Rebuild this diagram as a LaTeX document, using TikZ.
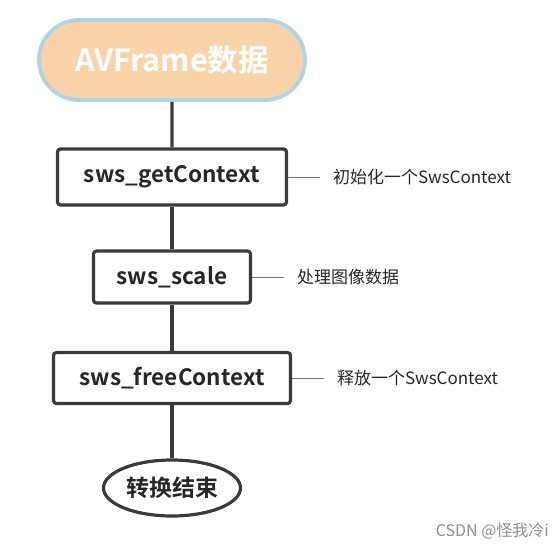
\documentclass[tikz,border=0pt]{standalone}
\usepackage{fontspec}
\setmainfont{Noto Sans CJK SC}[BoldFont={Noto Sans CJK SC Bold}]
\usetikzlibrary{shapes.misc,shapes.geometric}
\definecolor{inkdark}{RGB}{58,58,58}
\definecolor{peach}{RGB}{249,212,171}
\definecolor{skyline}{RGB}{178,211,227}
\tikzset{
  stepbox/.style={draw=inkdark,line width=3.2pt,fill=white,rounded corners=3pt,
    inner sep=0pt,font=\fontsize{22.5}{26}\selectfont\bfseries,text=black!85},
  startpill/.style={rounded rectangle,draw=skyline,line width=3.8pt,fill=peach,
    inner sep=0pt,minimum width=266pt,minimum height=80pt,
    font=\fontsize{30.5}{34}\selectfont\bfseries,text=white},
  endoval/.style={ellipse,draw=inkdark,line width=3.2pt,inner sep=0pt,
    minimum width=137pt,minimum height=56pt,font=\fontsize{23}{26}\selectfont\bfseries,text=black!85},
  flow/.style={draw=inkdark,line width=3.2pt},
  side/.style={draw=black!55,line width=0.8pt},
  note/.style={anchor=west,inner sep=0pt,outer xsep=13pt,font=\fontsize{17}{20}\selectfont,text=black!85}
}
\begin{document}
\begin{tikzpicture}[x=1pt,y=1pt,yscale=-1]
\useasboundingbox (0,0) rectangle (557,550);

%Shape: Rounded Rectangle [start]
\node[startpill] (start) at (172,60) {AVFrame数据};

%Shape: Rectangle [steps]
\node[stepbox,minimum width=229pt,minimum height=56pt] (getctx) at (172,177) {sws\_getContext};
\node[stepbox,minimum width=157pt,minimum height=52pt] (scale) at (172,277) {sws\_scale};
\node[stepbox,minimum width=237pt,minimum height=51pt] (freectx) at (172,378) {sws\_freeContext};

%Shape: Ellipse [end]
\node[endoval] (finish) at (172,488) {转换结束};

%Straight Lines
\draw[flow] (start) -- (getctx);
\draw[flow] (getctx) -- (scale);
\draw[flow] (scale) -- (freectx);
\draw[flow] (freectx) -- (finish);

% Text Node
\node[note] (getnote) at (320,177) {初始化一个SwsContext};
\node[note] (scalenote) at (284,277) {处理图像数据};
\node[note] (freenote) at (324,378) {释放一个SwsContext};

%Straight Lines
\draw[side] (getctx.east) -- (getnote.west);
\draw[side] (scale.east) -- (scalenote.west);
\draw[side] (freectx.east) -- (freenote.west);

% Text Node
\node[anchor=east,inner sep=0pt,font=\fontsize{16}{18}\selectfont,text=black!45] (mark) at (549,531) {CSDN @怪我冷i};

\end{tikzpicture}
\end{document}
